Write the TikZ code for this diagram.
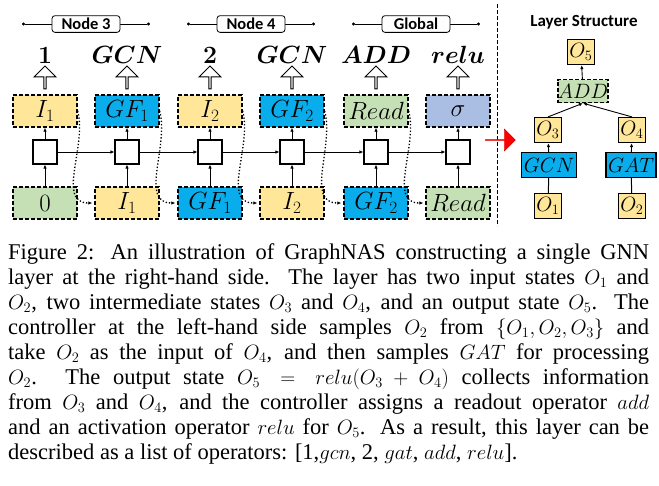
\documentclass[tikz,border=0pt]{standalone}
\usepackage{fontspec}
\setmainfont{Liberation Serif}
\newfontfamily\hdfont{Carlito}
\usetikzlibrary{shapes.arrows,arrows.meta}
\definecolor{cyel}{HTML}{FFE699}
\definecolor{cblu}{HTML}{0AADEB}
\definecolor{cgrn}{HTML}{C5E0B4}
\definecolor{clav}{HTML}{AABDE2}
\begin{document}
\begin{tikzpicture}[x=1pt,y=-1pt,
  dbox/.style={draw,line width=1.4pt,dash pattern=on 4pt off 2pt,minimum width=64pt,minimum height=32pt,inner sep=0pt,font=\fontsize{23}{23}\selectfont},
  sbox/.style={draw,line width=1.2pt,minimum height=25pt,inner sep=2pt,font=\fontsize{20}{20}\selectfont},
  sq/.style={draw,line width=1.1pt,fill=white,minimum size=24pt,inner sep=0pt},
  oarr/.style={single arrow,draw,line width=0.9pt,fill=white,rotate=90,minimum height=23pt,minimum width=22pt,single arrow head extend=4pt,single arrow tip angle=90,inner sep=0pt},
  hdr/.style={draw,rounded corners=3pt,line width=0.8pt,font=\hdfont\bfseries\fontsize{16.5}{16.5}\selectfont,inner sep=2.5pt,minimum width=68pt},
  hline/.style={line width=0.8pt,{Circle[length=3pt]}-{Circle[length=3pt]}},
  ar/.style={line width=0.9pt,-{Latex[length=4pt,width=3.5pt]}},
  dot/.style={line width=1.3pt,dotted,-{Latex[length=4pt,width=3.5pt]}},
  lab/.style={font=\fontsize{23}{23}\selectfont\boldmath}
]
\useasboundingbox (0,0) rectangle (659,485);
% headers
\foreach \c/\t/\n in {86/Node 3/h1,251/Node 4/h2,416/Global/h3}{
  \coordinate (\n l) at (\c-64,24); \coordinate (\n r) at (\c+64,24);
  \draw[hline] (\n l) -- (\n r);
  \node[hdr,fill=white] (\n) at (\c,24) {\t};
}
% columns
\foreach \i/\x in {1/45,2/127,3/210,4/292,5/376,6/458}{
  \node[sq] (s\i) at (\x,152) {};
  \node[oarr] (a\i) at (\x,78) {};
}
\node[lab] (l1) at (45,55) {$\mathbf{1}$};
\node[lab] (l2) at (127,55) {$GCN$};
\node[lab] (l3) at (210,55) {$\mathbf{2}$};
\node[lab] (l4) at (292,55) {$GCN$};
\node[lab] (l5) at (376,55) {$ADD$};
\node[lab] (l6) at (458,55) {$relu$};
\node[dbox,fill=cyel] (t1) at (45,111) {$I_1$};
\node[dbox,fill=cblu] (t2) at (127,111) {$GF_1$};
\node[dbox,fill=cyel] (t3) at (210,111) {$I_2$};
\node[dbox,fill=cblu] (t4) at (292,111) {$GF_2$};
\node[dbox,fill=cgrn] (t5) at (376,111) {$Read$};
\node[dbox,fill=clav] (t6) at (458,111) {$\sigma$};
\node[dbox,fill=cgrn] (b1) at (45,203) {$0$};
\node[dbox,fill=cyel] (b2) at (127,203) {$I_1$};
\node[dbox,fill=cblu] (b3) at (210,203) {$GF_1$};
\node[dbox,fill=cyel] (b4) at (292,203) {$I_2$};
\node[dbox,fill=cblu] (b5) at (376,203) {$GF_2$};
\node[dbox,fill=cgrn] (b6) at (458,203) {$Read$};
\foreach \i in {1,...,6}{
  \draw[ar] (b\i) -- (s\i);
  \draw[ar] (s\i) -- (t\i);
}
\foreach \i/\j in {1/2,2/3,3/4,4/5,5/6}{
  \draw[ar] (s\i) -- (s\j);
  \draw[dot] (t\i.east) to[out=-75,in=180] ([xshift=-2pt]b\j.west);
}
% divider and red arrow
\coordinate (dv1) at (497,4); \coordinate (dv2) at (497,226);
\draw[line width=0.9pt,dash pattern=on 4pt off 2pt] (dv1) -- (dv2);
\node[single arrow,fill=red,draw=red!80!black,minimum height=30pt,minimum width=22pt,single arrow head extend=4pt,inner sep=0pt] (ra) at (500,140) {};
% layer structure
\node[font=\hdfont\bfseries\fontsize{17}{17}\selectfont] (ls) at (584,22) {Layer Structure};
\node[sbox,fill=cyel,minimum width=22pt] (o5) at (581,52) {$O_5$};
\node[dbox,fill=cgrn,minimum width=46pt,minimum height=23pt,font=\fontsize{20}{20}\selectfont] (add) at (583,91) {$ADD$};
\node[sbox,fill=cyel] (o3) at (548,130) {$O_3$};
\node[sbox,fill=cyel] (o4) at (632,130) {$O_4$};
\node[sbox,fill=cblu] (gcn) at (549,165) {$GCN$};
\node[sbox,fill=cblu] (gat) at (631,165) {$GAT$};
\node[sbox,fill=cyel] (o1) at (548,206) {$O_1$};
\node[sbox,fill=cyel] (o2) at (632,206) {$O_2$};
\draw[line width=1pt] (o1) -- (gcn);
\draw[line width=1pt] (o2) -- (gat);
\draw[ar] (gcn) -- (o3);
\draw[ar] (gat) -- (o4);
\draw[ar] (o3.north) -- (add.south);
\draw[ar] (o4.north) -- (add.south);
\draw[ar] (add) -- (o5);
% caption
\node[anchor=north west,inner sep=0pt,text width=641pt,align=justify,font=\fontsize{22.5}{25}\selectfont] (cap) at (8,243) {%
Figure 2: An illustration of GraphNAS constructing a single GNN\linebreak
layer at the right-hand side. The layer has two input states $O_1$ and\linebreak
$O_2$, two intermediate states $O_3$ and $O_4$, and an output state $O_5$. The\linebreak
controller at the left-hand side samples $O_2$ from $\{O_1, O_2, O_3\}$ and\linebreak
take $O_2$ as the input of $O_4$, and then samples $GAT$ for processing\linebreak
$O_2$. The output state $O_5 = relu(O_3 + O_4)$ collects information\linebreak
from $O_3$ and $O_4$, and the controller assigns a readout operator $add$\linebreak
and an activation operator $relu$ for $O_5$. As a result, this layer can be\linebreak
described as a list of operators: [1,$gcn$, 2, $gat$, $add$, $relu$].};
\end{tikzpicture}
\end{document}
